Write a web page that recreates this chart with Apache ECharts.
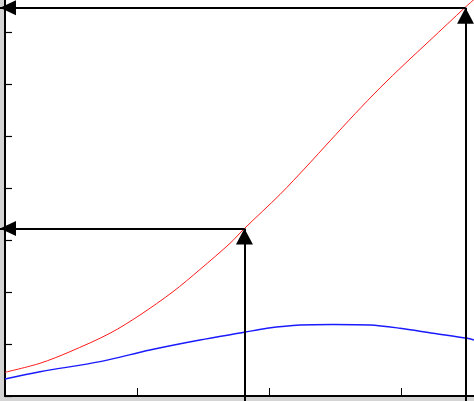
<!DOCTYPE html>
<html>
<head>
<meta charset="utf-8">
<script src="https://cdn.jsdelivr.net/npm/echarts@6/dist/echarts.min.js"></script>
<style>
  html, body { margin: 0; padding: 0; background: #d4d4d4; }
  #chart { width: 474px; height: 401px; }
</style>
</head>
<body>
<div id="chart"></div>
<script>
// Red curve (x, y) in axis units
const redX = [0, 0.265, 0.492, 0.795, 1.023, 1.273, 1.477, 1.705, 1.814, 2.083, 2.288, 2.462, 2.652, 2.841, 3.030, 3.220, 3.485, 3.553];
const redY = [0.456, 0.629, 0.852, 1.206, 1.558, 2.006, 2.433, 2.937, 3.221, 3.875, 4.423, 4.905, 5.428, 5.925, 6.390, 6.840, 7.471, 7.625];
// Blue curve
const blueX = [0, 0.265, 0.720, 1.098, 1.477, 1.814, 1.985, 2.235, 2.485, 2.765, 2.992, 3.242, 3.500, 3.553];
const blueY = [0.327, 0.467, 0.660, 0.885, 1.077, 1.225, 1.302, 1.365, 1.375, 1.365, 1.302, 1.206, 1.110, 1.077];
// Arrow guides: x positions and the values they point at
const guideX = [1.814, 3.489];
const guideY = [3.221, 7.465];
// Tick values
const xTicks = [0, 1, 2, 3];
const yTicks = [0, 1, 2, 3, 4, 5, 6, 7];

const X_MAX = 3.553, Y_MAX = 7.615;
const X_PAD = 5 / 132, Y_PAD = 5 / 52;

const pairs = (xs, ys) => xs.map((x, i) => [x, ys[i]]);

const guideLines = [];
guideX.forEach((gx, i) => {
  const gy = guideY[i];
  guideLines.push([
    { coord: [gx, gy], symbol: 'none' },
    { coord: [-X_PAD, gy], symbol: 'triangle', symbolSize: [15, 16], symbolOffset: [0, 8] }
  ]);
  guideLines.push([
    { coord: [gx, -Y_PAD], symbol: 'none' },
    { coord: [gx, gy], symbol: 'triangle', symbolSize: [17, 16], symbolOffset: [0, 8] }
  ]);
});

const chart = echarts.init(document.getElementById('chart'));
chart.setOption({
  animation: false,
  backgroundColor: '#d4d4d4',
  grid: [
    { left: 5, right: 0, top: 0, bottom: 5, show: true, backgroundColor: '#ffffff', borderWidth: 0 },
    { left: 0, right: 0, top: 0, bottom: 0 }
  ],
  xAxis: [
    {
      type: 'value', gridIndex: 0, min: 0, max: X_MAX,
      axisLine: { show: true, onZero: false, lineStyle: { color: '#000', width: 2 } },
      axisTick: { show: true, inside: true, length: 8, customValues: xTicks, lineStyle: { color: '#000', width: 1 } },
      axisLabel: { show: false },
      splitLine: { show: false }
    },
    { type: 'value', gridIndex: 1, min: -X_PAD, max: X_MAX, show: false }
  ],
  yAxis: [
    {
      type: 'value', gridIndex: 0, min: 0, max: Y_MAX,
      axisLine: { show: true, onZero: false, lineStyle: { color: '#000', width: 2 } },
      axisTick: { show: true, inside: true, length: 7, customValues: yTicks, lineStyle: { color: '#000', width: 1.2 } },
      axisLabel: { show: false },
      splitLine: { show: false }
    },
    { type: 'value', gridIndex: 1, min: -Y_PAD, max: Y_MAX, show: false }
  ],
  series: [
    {
      type: 'line', xAxisIndex: 0, yAxisIndex: 0,
      data: pairs(blueX, blueY), showSymbol: false, symbol: 'none',
      smooth: 0.3,
      lineStyle: { color: '#1a1aff', width: 1.4 }
    },
    {
      type: 'line', xAxisIndex: 0, yAxisIndex: 0,
      data: pairs(redX, redY), showSymbol: false, symbol: 'none',
      smooth: 0.3,
      lineStyle: { color: '#ff1a1a', width: 1 }
    },
    {
      type: 'line', xAxisIndex: 1, yAxisIndex: 1, data: [],
      symbol: 'none', clip: false, z: 5,
      markLine: {
        silent: true, animation: false,
        symbol: ['none', 'triangle'],
        label: { show: false },
        emphasis: { disabled: true },
        lineStyle: { color: '#000', width: 2, type: 'solid' },
        itemStyle: { color: '#000' },
        data: guideLines
      }
    }
  ]
});
</script>
</body>
</html>
